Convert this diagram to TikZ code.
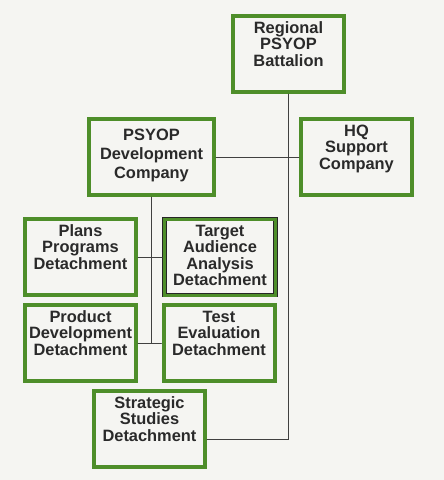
\documentclass[tikz,border=0pt]{standalone}
\usepackage{fontspec}
\setmainfont{Liberation Sans}
\definecolor{unitgreen}{RGB}{78,142,42}
\definecolor{inkgray}{RGB}{42,42,42}
\definecolor{paper}{RGB}{245,245,242}
\begin{document}
\begin{tikzpicture}[x=1pt,y=-1pt,
  unit/.style={draw=unitgreen,line width=4pt,inner sep=0pt,outer sep=2pt,
    text width=#1,align=center,text height=17pt,text depth=59pt,text=inkgray,
    font=\bfseries\fontsize{16.4}{16.5}\selectfont},
  unit/.default=111pt,
  ruled/.style={draw=black!85,double=unitgreen,line width=0.55pt,double distance=3pt},
  link/.style={draw=black!75,line width=0.8pt,line cap=round}]
  \fill[paper] (0,0) rectangle (444,480);

  % battalion and companies
  \node[unit] (bat) at (288.5,54) {Regional\\PSYOP\\Battalion};
  \node[unit] (hq) at (356.5,157) {HQ\\Support\\Company};
  \node[unit=125pt,text height=21.5pt,text depth=54.5pt,
    font=\bfseries\fontsize{16.4}{19}\selectfont] (dev) at (151.5,157)
    {PSYOP\\Development\\Company};

  % detachments
  \node[unit] (plans) at (80.5,257) {Plans\\Programs\\Detachment};
  \node[unit,ruled] (tgt) at (220,257) {Target\\Audience\\Analysis\\Detachment};
  \node[unit] (prod) at (80.5,343) {Product\\Development\\Detachment};
  \node[unit] (test) at (219,343) {Test\\Evaluation\\Detachment};
  \node[unit] (strat) at (149.5,429) {Strategic\\Studies\\Detachment};

  \coordinate (sslink) at ([yshift=-10pt]strat.east);
  \coordinate (corner) at (bat.south |- sslink);
  \draw[link] (bat.south) -- (corner) -- (sslink);
  \draw[link] (dev.east) -- (hq.west);
  \draw[link] (dev.south) -- (dev.south |- prod.east);
  \draw[link] (plans.east) -- (tgt.west);
  \draw[link] (prod.east) -- (test.west);
\end{tikzpicture}
\end{document}
